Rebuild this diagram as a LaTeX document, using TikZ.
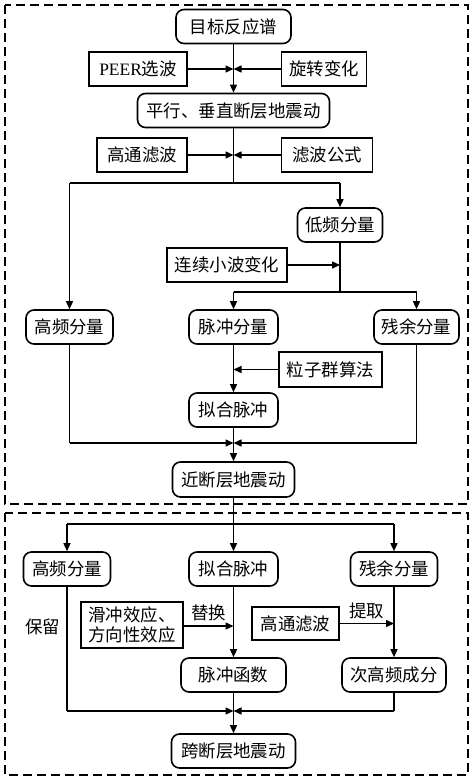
\documentclass[tikz,border=0pt]{standalone}
\usepackage{fontspec}
\setmainfont{Liberation Serif}
\newfontfamily\cjk{Noto Sans CJK SC}
\usetikzlibrary{arrows.meta}
\tikzset{
  base/.style={draw, line width=1.6bp, inner sep=0pt, minimum height=34bp, align=center, font=\cjk\fontsize{17.5}{21}\selectfont},
  rbox/.style={base, rounded corners=8bp},
  sbox/.style={base},
  arr/.style={line width=1.4bp, -{Triangle[length=8bp,width=7bp]}},
  ln/.style={line width=1.4bp},
  frame/.style={draw, line width=1.8bp, dash pattern=on 9bp off 5bp},
  lab/.style={font=\cjk\fontsize{17.5}{21}\selectfont, inner sep=0pt}
}
\begin{document}
\begin{tikzpicture}[x=1bp,y=-1bp]
\useasboundingbox (0,0) rectangle (474,780);
\draw[frame] (5,5) rectangle (468,504);
\draw[frame] (5,513) rectangle (468,775);
% upper part
\node[rbox, minimum width=115bp] (t1) at (233.5,26.5) {目标反应谱};
\node[sbox, minimum width=98bp] (peer) at (138,69) {{\rmfamily PEER}选波};
\node[sbox, minimum width=85bp] (rot) at (324,69) {旋转变化};
\node[rbox, minimum width=192bp] (p1) at (233.5,110.5) {平行、垂直断层地震动};
\node[sbox, minimum width=90bp] (hp1) at (142,155) {高通滤波};
\node[sbox, minimum width=91bp] (ff) at (327,155) {滤波公式};
\node[rbox, minimum width=85bp] (low) at (340,225) {低频分量};
\node[sbox, minimum width=120bp] (cwt) at (227,265) {连续小波变化};
\node[rbox, minimum width=87bp] (high1) at (69.5,327) {高频分量};
\node[rbox, minimum width=89bp] (pulse1) at (233.5,327) {脉冲分量};
\node[rbox, minimum width=85bp] (res1) at (416.5,327) {残余分量};
\node[sbox, minimum width=103bp, minimum height=35bp] (pso) at (330.5,369.5) {粒子群算法};
\node[rbox, minimum width=89bp] (fit1) at (233.5,410) {拟合脉冲};
\node[rbox, minimum width=122bp, minimum height=35bp] (near) at (233.5,479.5) {近断层地震动};
% lower part
\node[rbox, minimum width=87bp] (high2) at (67,569) {高频分量};
\node[rbox, minimum width=89bp] (fit2) at (233.5,569) {拟合脉冲};
\node[rbox, minimum width=87bp] (res2) at (394,569) {残余分量};
\node[sbox, minimum width=102bp, minimum height=46bp, font=\cjk\fontsize{17.5}{20}\selectfont] (eff) at (132,625) {滑冲效应、\\方向性效应};
\node[sbox, minimum width=87bp, minimum height=33bp] (hp2) at (295.5,623.5) {高通滤波};
\node[rbox, minimum width=105bp] (pf) at (233.5,675) {脉冲函数};
\node[rbox, minimum width=104bp] (sub) at (394,675) {次高频成分};
\node[rbox, minimum width=124bp] (cross) at (233.5,751) {跨断层地震动};
% coordinates
\coordinate (m1) at (233.5,69);
\coordinate (m2) at (233.5,155);
\coordinate (b1) at (233.5,183);
\coordinate (b1l) at (69.5,183);
\coordinate (b1r) at (340,183);
\coordinate (m3) at (340,265);
\coordinate (b2) at (340,292);
\coordinate (b2l) at (233.5,292);
\coordinate (b2r) at (416.5,292);
\coordinate (m4) at (233.5,369.5);
\coordinate (m5) at (233.5,443);
\coordinate (c5l) at (69.5,443);
\coordinate (c5r) at (416.5,443);
\coordinate (b3) at (233.5,524);
\coordinate (b3l) at (67,524);
\coordinate (b3r) at (394,524);
\coordinate (m6) at (233.5,626);
\coordinate (m7) at (394,623.5);
\coordinate (m8) at (233.5,711);
\coordinate (c8l) at (67,711);
\coordinate (c8r) at (394,711);
% connectors upper
\draw[arr] (t1) -- (p1);
\draw[arr] (peer) -- (m1);
\draw[arr] (rot) -- (m1);
\draw[ln] (p1) -- (b1);
\draw[arr] (hp1) -- (m2);
\draw[arr] (ff) -- (m2);
\draw[ln] (b1l) -- (b1r);
\draw[arr] (b1l) -- (high1);
\draw[arr] (b1r) -- (low);
\draw[ln] (low) -- (b2);
\draw[arr] (cwt) -- (m3);
\draw[ln] (b2l) -- (b2r);
\draw[arr] (b2l) -- (pulse1);
\draw[arr] (b2r) -- (res1);
\draw[arr] (pulse1) -- (fit1);
\draw[arr] (pso) -- (m4);
\draw[arr] (fit1) -- (near);
\draw[ln] (high1) -- (c5l);
\draw[arr] (c5l) -- (m5);
\draw[ln] (res1) -- (c5r);
\draw[arr] (c5r) -- (m5);
% connectors lower
\draw[ln] (near) -- (b3);
\draw[ln] (b3l) -- (b3r);
\draw[arr] (b3l) -- (high2);
\draw[arr] (near) -- (fit2);
\draw[arr] (b3r) -- (res2);
\draw[arr] (fit2) -- (pf);
\draw[arr] (eff.east |- m6) -- node[lab, above=4bp] (tihuan) {替换} (m6);
\draw[arr] (res2) -- (sub);
\draw[arr] (hp2) -- node[lab, above=4bp] (tiqu) {提取} (m7);
\draw[ln] (high2) -- (c8l);
\draw[arr] (c8l) -- (m8);
\draw[ln] (sub) -- (c8r);
\draw[arr] (c8r) -- (m8);
\draw[arr] (pf) -- (cross);
\node[lab] (baoliu) at (42.5,627) {保留};
\end{tikzpicture}
\end{document}
